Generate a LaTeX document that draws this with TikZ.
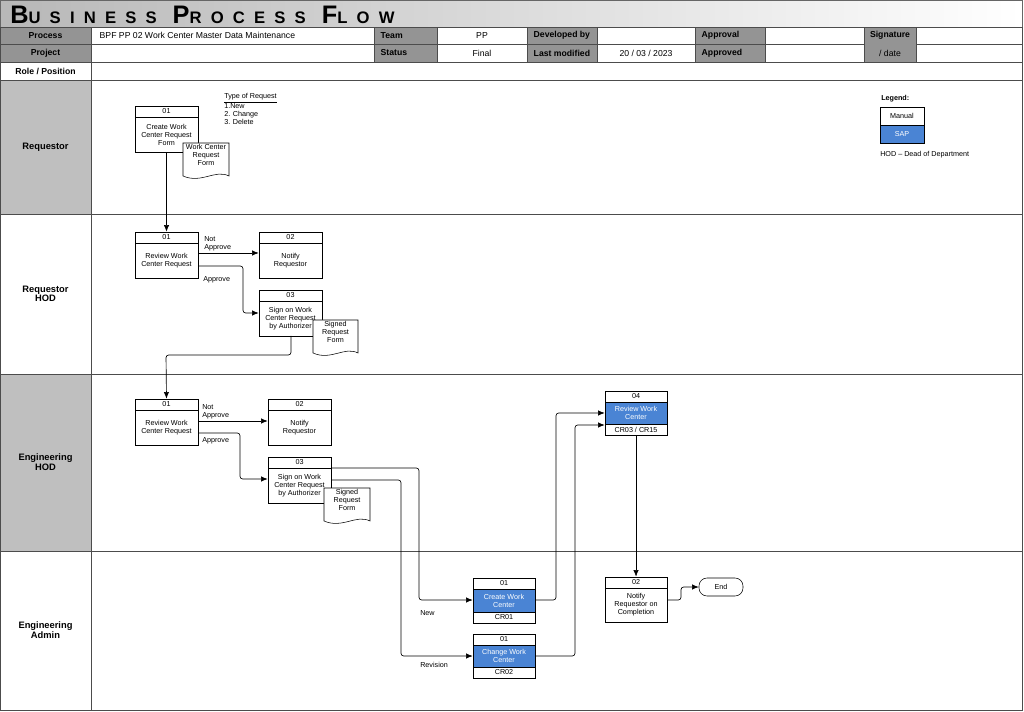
\documentclass[tikz,border=0pt]{standalone}
\usepackage{fontspec}
\setmainfont{Liberation Sans}
\usetikzlibrary{arrows.meta}
\begin{document}
\begin{tikzpicture}[x=0.75pt,y=-0.75pt,
  hd/.style={draw=black!70,fill=black!42},
  wc/.style={draw=black!70,fill=white},
  ht/.style={font=\fontsize{6.5}{7}\selectfont\bfseries},
  vt/.style={font=\fontsize{6.5}{7}\selectfont},
  lane/.style={font=\fontsize{7}{7}\selectfont\bfseries,align=center},
  txt/.style={font=\fontsize{5.4}{6}\selectfont,align=center,inner sep=0},
  lbl/.style={font=\fontsize{5.4}{6}\selectfont,align=left,inner sep=0,anchor=west},
  arr/.style={draw=black,-{Latex[length=5pt,width=4pt]},rounded corners=2,line width=0.5pt}]
\definecolor{sap}{RGB}{74,132,212}
\useasboundingbox (0,0) rectangle (1024,712);
\fill[white] (0,0) rectangle (1024,712);
% title
\shade[left color=black!28,right color=white,draw=black!60] (0,0) rectangle (1022,27);
\node[anchor=west,inner sep=0,font=\bfseries\addfontfeature{LetterSpace=55}] (title) at (10,15)
 {{\fontsize{19}{19}\selectfont B}{\fontsize{12.5}{12.5}\selectfont USINESS}\hspace{12pt}{\fontsize{19}{19}\selectfont P}{\fontsize{12.5}{12.5}\selectfont ROCESS}\hspace{12pt}{\fontsize{19}{19}\selectfont F}{\fontsize{12.5}{12.5}\selectfont LOW}};
% header rows
\foreach \a/\b in {0/91,374/437,527/597,695/765}{
  \path[hd] (\a,27) rectangle (\b,44); \path[hd] (\a,44) rectangle (\b,62);}
\foreach \a/\b in {91/374,437/527,597/695,765/864,916/1022}{
  \path[wc] (\a,27) rectangle (\b,44); \path[wc] (\a,44) rectangle (\b,62);}
\path[hd] (864,27) rectangle (916,62);
\node[ht] at (45.5,35.5) {Process};
\node[ht] at (45.5,53) {Project};
\node[vt,anchor=west] at (95,35.5) {BPF PP 02 Work Center Master Data Maintenance};
\node[ht,anchor=west] at (376,35.5) {Team};
\node[ht,anchor=west] at (376,53) {Status};
\node[vt] at (482,35.5) {PP};
\node[vt] at (482,53) {Final};
\node[ht,anchor=west] at (529,35.5) {Developed by};
\node[ht,anchor=west] at (529,53) {Last modified};
\node[vt] at (646,53) {20 / 03 / 2023};
\node[ht,anchor=west] at (697,35.5) {Approval};
\node[ht,anchor=west] at (697,53) {Approved};
\node[ht] at (890,35.5) {Signature};
\node[vt] at (890,53) {/ date};
\path[wc] (0,62) rectangle (91,80); \path[wc] (91,62) rectangle (1022,80);
\node[ht] at (45.5,71) {Role / Position};
% lanes
\path[draw=black!70,fill=black!25] (0,80) rectangle (91,214);
\path[wc] (0,214) rectangle (91,374);
\path[draw=black!70,fill=black!25] (0,374) rectangle (91,551);
\path[wc] (0,551) rectangle (91,710);
\foreach \a/\b in {80/214,214/374,374/551,551/710}{\draw[black!70] (91,\a) rectangle (1022,\b);}
\node[lane] at (45.5,147) {Requestor};
\node[lane] at (45.5,294) {Requestor\\HOD};
\node[lane] at (45.5,462) {Engineering\\HOD};
\node[lane] at (45.5,630) {Engineering\\Admin};
% macros
\newcommand\pbox[7]{%
 \node[draw,rectangle,inner sep=0,fill=white,minimum width={(#4-#2)*0.75pt},minimum height={(#5-#3)*0.75pt}] (#1) at ({(#2+#4)/2},{(#3+#5)/2}) {};
 \draw (#2,#3+11) -- (#4,#3+11);
 \node[txt] at ({(#2+#4)/2},#3+5.5) {#6};
 \node[txt] at ({(#2+#4)/2},{(#3+11+#5)/2}) {#7};}
\newcommand\sapbox[8]{%
 \node[draw,rectangle,inner sep=0,fill=white,minimum width={(#4-#2)*0.75pt},minimum height={(#5-#3)*0.75pt}] (#1) at ({(#2+#4)/2},{(#3+#5)/2}) {};
 \fill[sap] (#2,#3+11) rectangle (#4,#5-11);
 \draw (#2,#3+11) -- (#4,#3+11) (#2,#5-11) -- (#4,#5-11) (#2,#3) rectangle (#4,#5);
 \node[txt] at ({(#2+#4)/2},#3+5.5) {#6};
 \node[txt,text=white] at ({(#2+#4)/2},{(#3+#5)/2}) {#7};
 \node[txt] at ({(#2+#4)/2},#5-5.5) {#8};}
\newcommand\doc[6]{%
 \coordinate (#1) at ({(#2+#4)/2},{(#3+#5)/2});
 \draw[fill=white] (#2,#3) -- (#4,#3) -- (#4,#5-2) .. controls ({#4-(#4-#2)*0.3},#5-9) and ({#2+(#4-#2)*0.4},#5+6) .. (#2,#5-2) -- cycle;
 \node[txt] at ({(#2+#4)/2},#3+12) {#6};}
% Requestor lane
\pbox{r1}{135}{106}{198}{152}{01}{Create Work\\Center Request\\Form}
\doc{d1}{183}{143}{229}{178}{Work Center\\Request\\Form}
\node[lbl,anchor=north west,align=left] (tor) at (224,93) {\underline{Type of Request}\\1.New\\2. Change\\3. Delete};
\node[font=\fontsize{5.4}{6}\selectfont\bfseries,anchor=west,inner sep=0] (leg) at (881,99) {Legend:};
\node[draw,fill=white,minimum width=33pt,minimum height=13.5pt,inner sep=0,txt] (man) at (902,116) {Manual};
\node[draw,fill=sap,minimum width=33pt,minimum height=13.5pt,inner sep=0,txt,text=white] (sapl) at (902,134) {SAP};
\node[lbl] (hodn) at (880,155) {HOD -- Dead of Department};
% Requestor HOD
\pbox{h1}{135}{232}{198}{278}{01}{Review Work\\Center Request}
\pbox{h2}{259}{232}{322}{278}{02}{Notify\\Requestor}
\pbox{h3}{259}{290}{322}{336}{03}{Sign on Work\\Center Request\\by Authorizer}
\doc{d2}{313}{320}{358}{355}{Signed\\Request\\Form}
\draw[arr] (r1.south) -- (h1.north);
\draw[arr] (h1.east |- 0,253) -- (h2.west |- 0,253);
\node[lbl] (na1) at (204,244) {Not\\Approve};
\draw[arr] (h1.east |- 0,266) -- (243,266) -- (243,313) -- (h3.west |- 0,313);
\node[lbl] (ap1) at (203,280) {Approve};
% Engineering HOD
\pbox{e1}{135}{399}{198}{445}{01}{Review Work\\Center Request}
\pbox{e2}{268}{399}{331}{445}{02}{Notify\\Requestor}
\pbox{e3}{268}{457}{331}{503}{03}{Sign on Work\\Center Request\\by Authorizer}
\doc{d3}{324}{488}{370}{523}{Signed\\Request\\Form}
\draw[arr] (291,336) -- (291,355) -- (166,355) -- (e1.north);
\draw[arr] (e1.east |- 0,421) -- (e2.west |- 0,421);
\node[lbl] (na2) at (202,412) {Not\\Approve};
\draw[arr] (e1.east |- 0,433) -- (240,433) -- (240,479) -- (e3.west |- 0,479);
\node[lbl] (ap2) at (202,441) {Approve};
% Admin
\sapbox{c1}{473}{578}{535}{623}{01}{Create Work\\Center}{CR01}
\sapbox{c2}{473}{634}{535}{678}{01}{Change Work\\Center}{CR02}
\sapbox{rv}{605}{391}{667}{435}{04}{Review Work\\Center}{CR03 / CR15}
\pbox{n2}{605}{577}{667}{622}{02}{Notify\\Requestor on\\Completion}
\node[draw,rounded corners=6,minimum width=33pt,minimum height=13.5pt,inner sep=0,txt] (end) at (721,587) {End};
\draw[arr] (e3.east |- 0,468) -- (419,468) -- (419,600) -- (c1.west |- 0,600);
\draw[arr] (e3.east |- 0,480) -- (401,480) -- (401,656) -- (c2.west |- 0,656);
\node[lbl] (nw) at (420,613) {New};
\node[lbl] (rvl) at (420,665) {Revision};
\draw[arr] (c1.east |- 0,600) -- (556,600) -- (556,413) -- (rv.west |- 0,413);
\draw[arr] (c2.east |- 0,656) -- (575,656) -- (575,425) -- (rv.west |- 0,425);
\draw[arr] (rv.south) -- (n2.north);
\draw[arr] (n2.east |- 0,600) -- (681,600) -- (681,587) -- (end.west);
\end{tikzpicture}
\end{document}
